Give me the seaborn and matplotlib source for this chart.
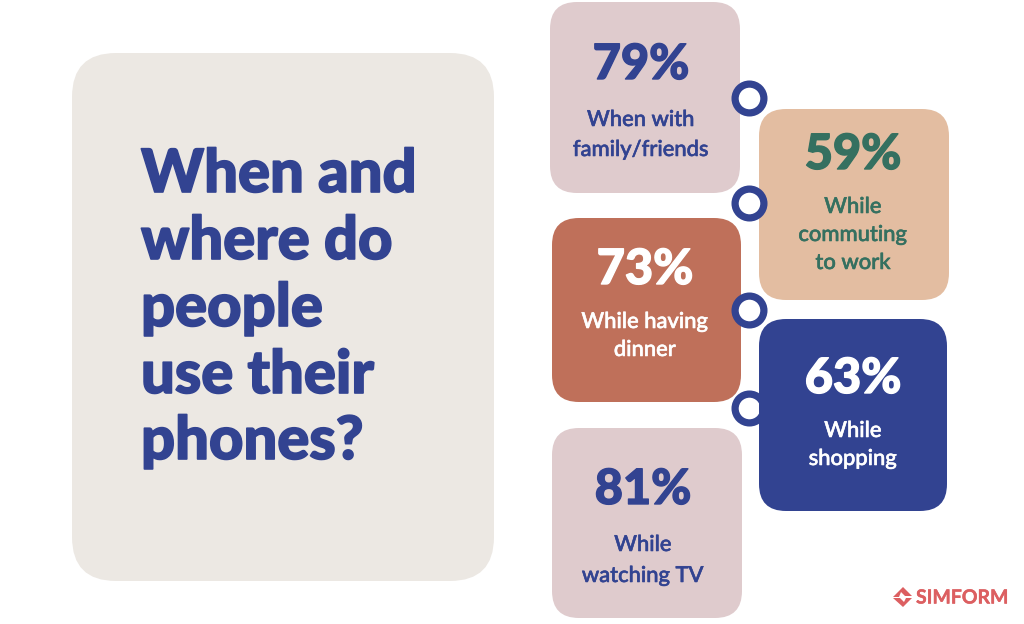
import matplotlib
matplotlib.use('Agg')
import matplotlib.pyplot as plt
import matplotlib.patheffects as pe
import seaborn as sns
import pandas as pd
from matplotlib.patches import FancyBboxPatch, Polygon

# chart content
title_lines = ['When and', 'where do', 'people', 'use their', 'phones?']
percents = [79, 59, 73, 63, 81]
labels = [['When with', 'family/friends'],
          ['While', 'commuting', 'to work'],
          ['While having', 'dinner'],
          ['While', 'shopping'],
          ['While', 'watching TV']]

# layout in pixels of the 1024x624 canvas
card_boxes = [(550, 2, 190, 191), (759, 109, 190, 191), (552, 218, 189, 184),
              (759, 319, 188, 192), (552, 428, 190, 190)]
card_centers = [641, 853, 645, 853, 643]
percent_base = [79, 169, 284, 393, 504]
label_base = [[126, 156], [213, 241, 269], [328, 356], [437, 465], [551, 582]]
title_base = [192, 259, 326, 393, 459]
ring_x = [749, 749, 749, 749]
ring_y = [98, 203, 310, 408]
ring_on_top = [True, True, True, False]

NAVY = '#324391'
PINK = '#DFCBCD'
card_colors = [PINK, '#E3BDA1', '#BF705A', NAVY, PINK]
text_colors = [NAVY, '#357060', 'white', 'white', NAVY]
LOGO = '#DC5F61'

sns.set_theme(style='white')
plt.rcParams['font.family'] = ['Lato', 'DejaVu Sans']

fig = plt.figure(figsize=(10.24, 6.24), dpi=100, facecolor='white')
ax = fig.add_axes([0, 0, 1, 1])
ax.set_xlim(0, 1024)
ax.set_ylim(624, 0)
ax.axis('off')


def rounded(x, y, w, h, r, color, z):
    ax.add_patch(FancyBboxPatch((x, y), w, h, boxstyle=f'round,pad=0,rounding_size={r}',
                                fc=color, ec='none', zorder=z))


def thicken(txt, width, color):
    # Lato tops out below the weight of the original, so fatten it a bit
    txt.set_path_effects([pe.withStroke(linewidth=width, foreground=color)])


# big title panel
rounded(72, 53, 422, 528, 44, '#ECE8E3', 1)
for line, base in zip(title_lines, title_base):
    t = ax.text(141, base, line, color=NAVY, fontsize=43, fontweight='black',
                ha='left', va='baseline', zorder=5)
    thicken(t, 1.2, NAVY)

# cards
for i, (x, y, w, h) in enumerate(card_boxes):
    rounded(x, y, w, h, 27, card_colors[i], 2)
    t = ax.text(card_centers[i], percent_base[i], f'{percents[i]}%', color=text_colors[i],
                fontsize=35, fontweight='black', ha='center', va='baseline', zorder=5)
    thicken(t, 1.0, text_colors[i])
    for line, base in zip(labels[i], label_base[i]):
        t = ax.text(card_centers[i], base, line, color=text_colors[i], fontsize=15.8,
                    fontweight='medium', ha='center', va='baseline', zorder=5)
        thicken(t, 0.4, text_colors[i])

# rings between the cards
rings = pd.DataFrame({'x': ring_x, 'y': ring_y, 'top': ring_on_top})
sns.scatterplot(data=rings[rings['top']], x='x', y='y', s=430, color='white',
                edgecolor=NAVY, linewidth=5.2, zorder=4, ax=ax, legend=False)
sns.scatterplot(data=rings[~rings['top']], x='x', y='y', s=430, color='white',
                edgecolor=NAVY, linewidth=5.2, zorder=1.5, ax=ax, legend=False)
ax.set_xlim(0, 1024)
ax.set_ylim(624, 0)
ax.axis('off')

# logo
ax.add_patch(Polygon([(893, 597), (903, 587), (912, 596), (905, 596), (901, 592), (899, 597)],
                     closed=True, fc=LOGO, ec='none', zorder=5))
ax.add_patch(Polygon([(912, 598), (903, 607), (893, 598), (900, 598), (904, 602), (906, 598)],
                     closed=True, fc=LOGO, ec='none', zorder=5))
t = ax.text(916, 603.5, 'SIMFORM', color=LOGO, fontsize=14, fontweight='bold',
            ha='left', va='baseline', zorder=5)
thicken(t, 0.3, LOGO)

fig.savefig('out.png', dpi=100)
